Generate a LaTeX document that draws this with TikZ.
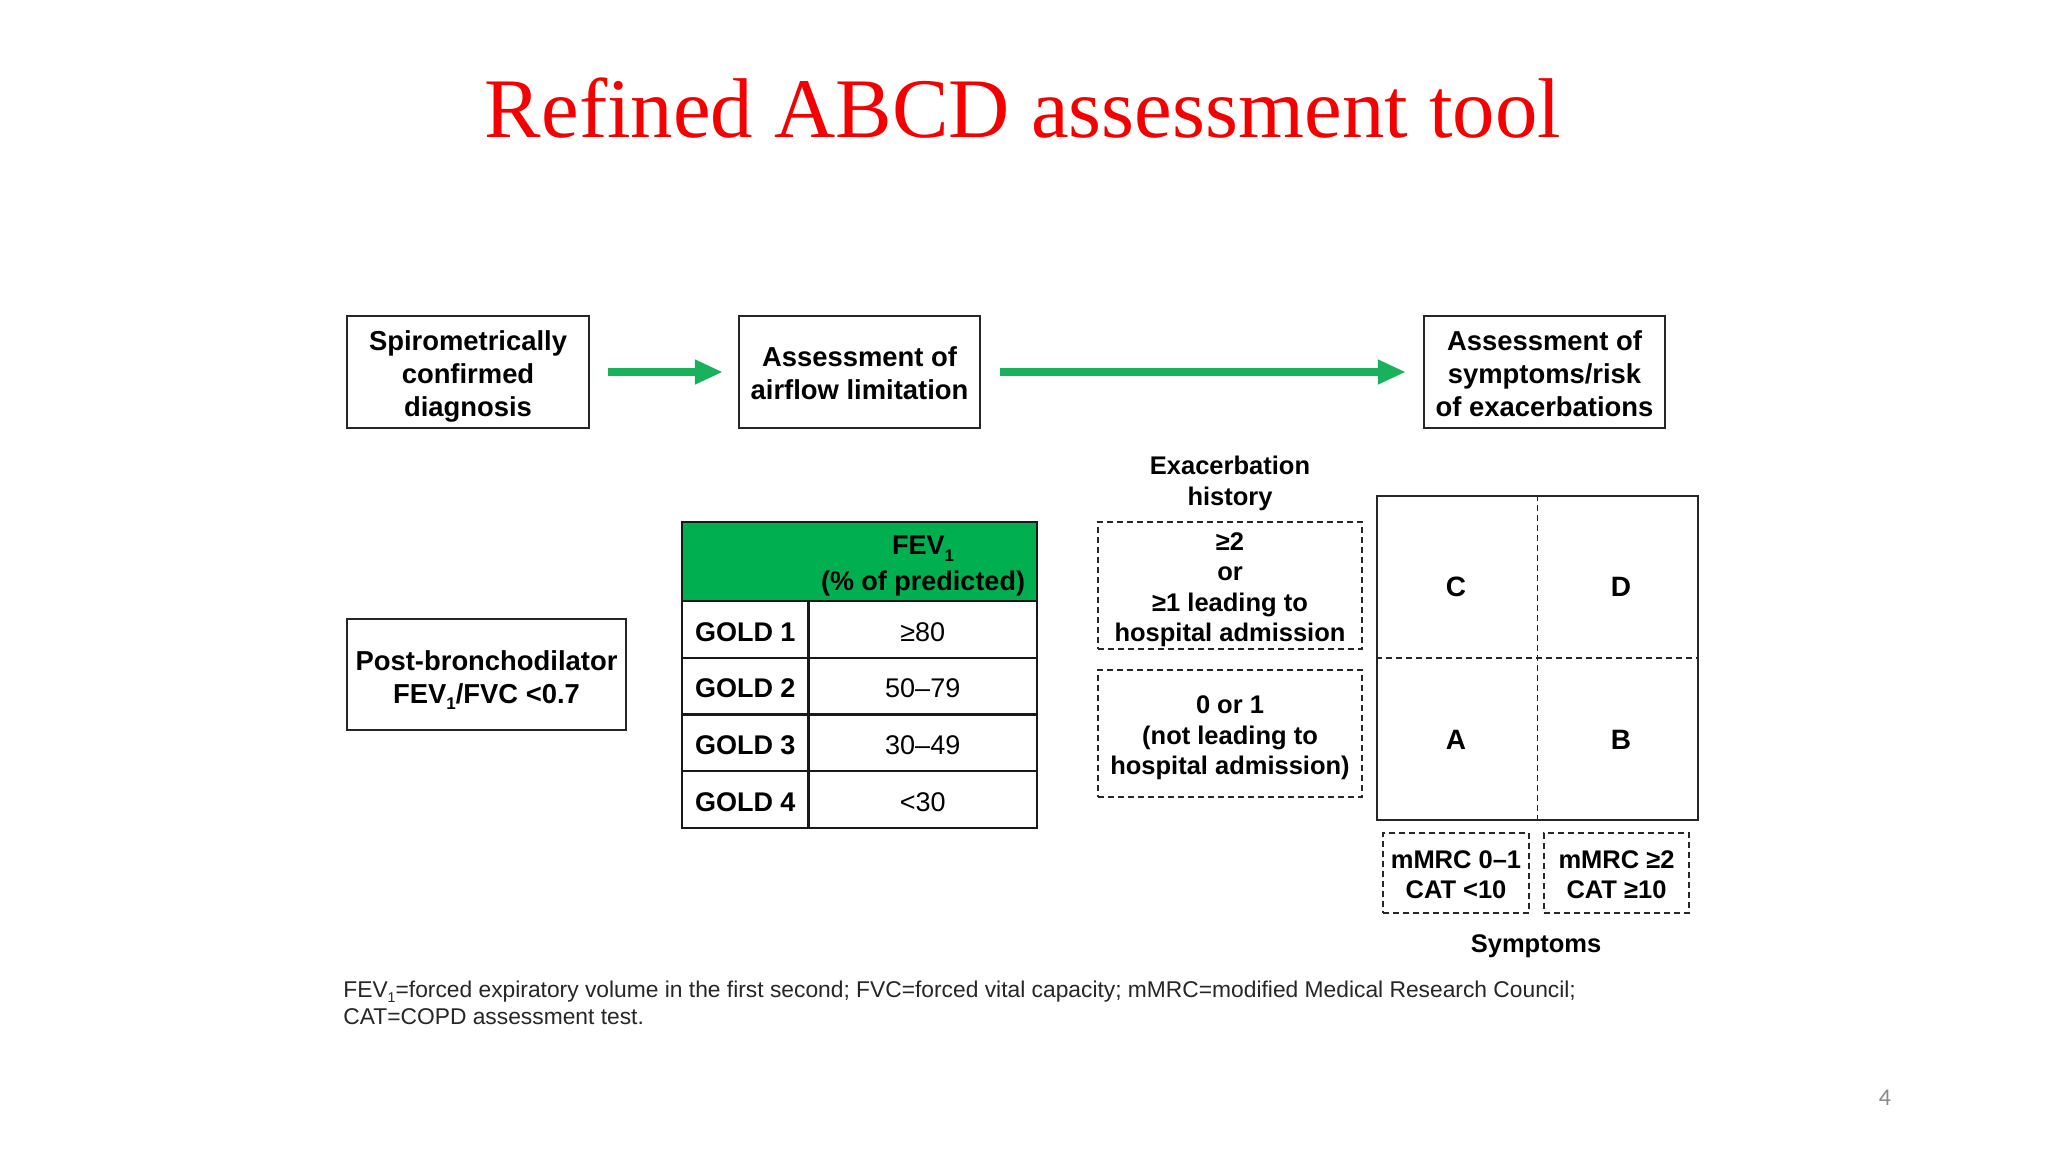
\documentclass[tikz,border=0pt]{standalone}
\usepackage{fontspec}
\setmainfont{Liberation Sans}
\newfontfamily\titlefont{Liberation Serif}
\newfontfamily\pagefont{Carlito}
\usetikzlibrary{arrows.meta}
\definecolor{goldgreen}{RGB}{0,176,80}
\definecolor{arrowgreen}{RGB}{24,178,92}
\definecolor{titlered}{RGB}{245,0,0}
\definecolor{pagegray}{RGB}{137,137,137}
\newcommand\lsub[1]{\raisebox{-0.24em}{\scalebox{0.62}{#1}}}
\newcommand\tstrut{\rule{0pt}{14.3pt}}
\newcommand\pstrut{\rule{0pt}{15.5pt}}
\newcommand\sstrut{\rule{0pt}{13.6pt}}
\begin{document}
\begin{tikzpicture}[x=0.5pt,y=-0.5pt,
  flowbox/.style={draw=black!85, line width=1.1pt, align=center, inner sep=0pt, text depth=3pt,
    font=\fontsize{13.7}{16.4}\selectfont\bfseries},
  greenarrow/.style={draw=arrowgreen, line width=3.8pt, -{Triangle[length=14pt,width=11.5pt]}},
  tcell/.style={draw=black!90, line width=1.2pt, inner sep=0pt, minimum height=28.375pt,
    text height=14.8pt, text depth=3pt},
  goldlbl/.style={tcell, minimum width=63.25pt, font=\fontsize{13.5}{16}\selectfont\bfseries},
  goldval/.style={tcell, minimum width=114.25pt, font=\fontsize{13.5}{16}\selectfont},
  dashbox/.style={draw=black!85, line width=0.8pt, dash pattern=on 3pt off 2pt, align=center, inner sep=0pt, text depth=3pt,
    font=\fontsize{12.75}{15.25}\selectfont\bfseries},
  plainlbl/.style={align=center, inner sep=0pt, font=\fontsize{12.75}{15.25}\selectfont\bfseries},
  quadlbl/.style={inner sep=0pt, font=\fontsize{14}{16}\selectfont\bfseries},
  griddash/.style={draw=black!85, line width=0.8pt, dash pattern=on 3pt off 2pt}
]
\useasboundingbox (0,0) rectangle (2048,1152);
\fill[white] (0,0) rectangle (2048,1152);

% title
\node[font=\titlefont\fontsize{42.4}{50}\selectfont, text=titlered, anchor=base, inner sep=0pt] (title) at (1023,137) {Refined ABCD assessment tool};

% top flow
\node[flowbox, minimum width=121pt, minimum height=56pt] (b1) at (468,372) {\tstrut Spirometrically\\confirmed\\diagnosis};
\node[flowbox, minimum width=120.5pt, minimum height=56pt] (b2) at (859.5,372) {\tstrut Assessment of\\airflow limitation};
\node[flowbox, minimum width=120.5pt, minimum height=56pt] (b3) at (1544.5,372) {\tstrut Assessment of\\symptoms/risk\\of exacerbations};
\draw[greenarrow, shorten <=9pt, shorten >=7.5pt] (b1) -- (b2);
\draw[greenarrow, shorten <=9.5pt, shorten >=8.5pt] (b2) -- (b3);

% post-bronchodilator
\node[flowbox, minimum width=139.5pt, minimum height=55.5pt] (pb) at (486.5,674.5) {\pstrut Post-bronchodilator\\FEV\lsub{1}/FVC {<}0.7};

% GOLD table
\node[draw=black!90, fill=goldgreen, line width=1.2pt, minimum width=177.5pt, minimum height=39.5pt, inner sep=0pt] (hdr) at (859.5,561.5) {};
\node[plainlbl, font=\fontsize{13.5}{17.5}\selectfont\bfseries] (hdrtxt) at (923,566) {FEV\lsub{1}\\(\% of predicted)};
\foreach \lbl/\val [count=\k] in {GOLD 1/{≥80}, GOLD 2/{50–79}, GOLD 3/{30–49}, GOLD 4/{<30}} {
  \node[goldlbl] (g\k) at (745.25,{601+56.75*(\k-0.5)}) {\lbl};
  \node[goldval] (v\k) at (922.75,{601+56.75*(\k-0.5)}) {\val};
}

% exacerbation history
\node[plainlbl] (exh) at (1230,483.5) {Exacerbation\\history};
\node[dashbox, minimum width=132pt, minimum height=63.5pt] (ex1) at (1230,585.5) {\sstrut ≥2\\or\\≥1 leading to\\hospital admission};
\node[dashbox, minimum width=132pt, minimum height=63.5pt] (ex2) at (1230,733.5) {\sstrut 0 or 1\\(not leading to\\hospital admission)};

% ABCD grid
\node[draw=black!85, line width=1.1pt, minimum width=160.5pt, minimum height=162pt, inner sep=0pt] (grid) at (1537.5,658) {};
\draw[griddash] (grid.north) -- (grid.south);
\draw[griddash] (grid.west) -- (grid.east);
\node[quadlbl] (qc) at (1456,587) {C};
\node[quadlbl] (qd) at (1621,587) {D};
\node[quadlbl] (qa) at (1456,739.5) {A};
\node[quadlbl] (qb) at (1621,739.5) {B};

% symptoms
\node[dashbox, minimum width=73pt, minimum height=40pt] (sy1) at (1456,873) {\sstrut mMRC 0–1\\CAT {<}10};
\node[dashbox, minimum width=72.5pt, minimum height=40pt] (sy2) at (1616.5,873) {\sstrut mMRC ≥2\\CAT ≥10};
\node[plainlbl] (sym) at (1536,946) {Symptoms};

% footnote
\node[anchor=west, align=left, inner sep=0pt, text=black!85, font=\fontsize{11.4}{13.5}\selectfont] (foot) at (343,1002.5) {FEV\lsub{1}=forced expiratory volume in the first second; FVC=forced vital capacity; mMRC=modified Medical Research Council;\\CAT=COPD assessment test.};

% page number
\node[font=\pagefont\fontsize{12}{14}\selectfont, text=pagegray, inner sep=0pt] (pg) at (1885,1098) {4};
\end{tikzpicture}
\end{document}
